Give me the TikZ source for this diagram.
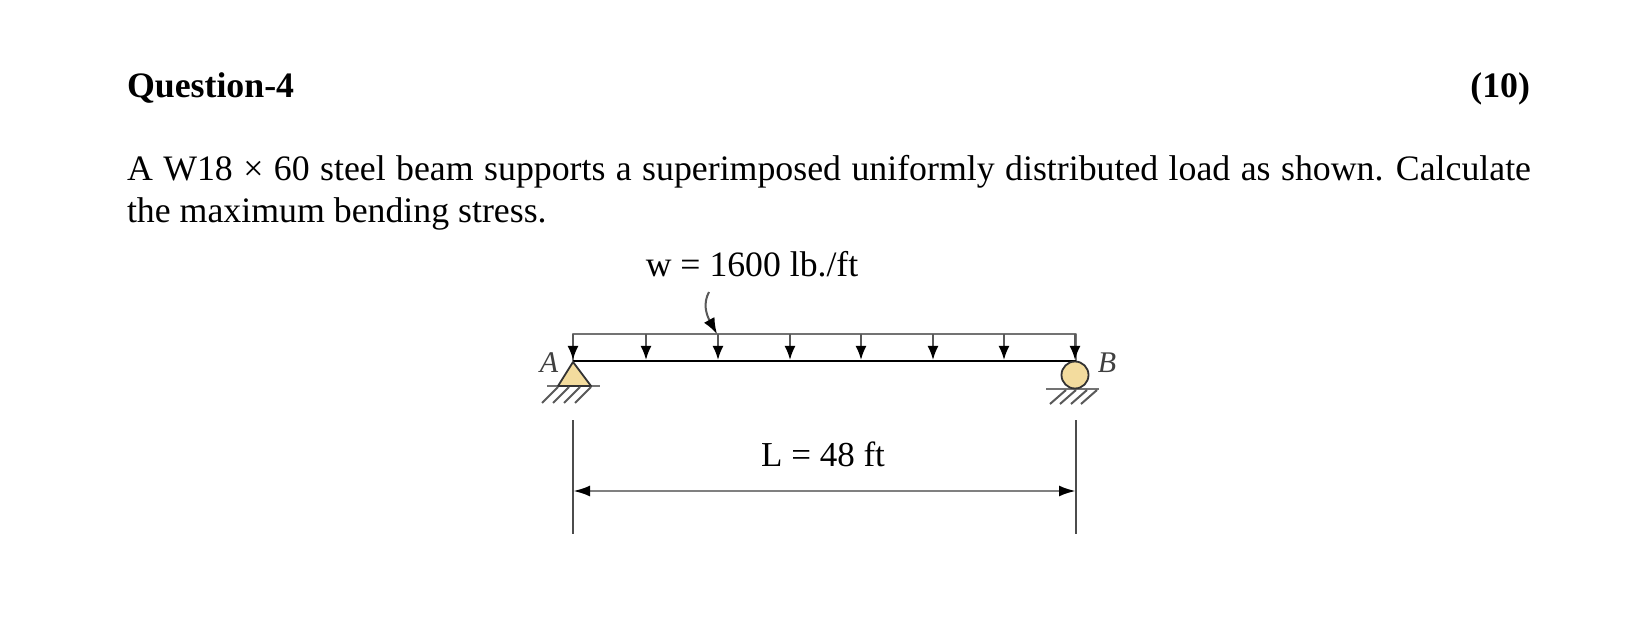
\documentclass[tikz,border=0pt]{standalone}
\usepackage{fontspec}
\setmainfont{Liberation Serif}
\usetikzlibrary{arrows.meta}
\definecolor{tan}{HTML}{F3DC9E}
\tikzset{
 txt/.style={inner sep=0pt,outer sep=0pt,anchor=base west,font=\fontsize{35.8}{36}\selectfont},
 head/.style={txt,font=\fontsize{35.8}{36}\selectfont\bfseries},
 fig/.style={inner sep=0pt,outer sep=0pt,anchor=base,font=\fontsize{35.7}{36}\selectfont},
 lab/.style={inner sep=0pt,outer sep=0pt,anchor=base,text=black!75,font=\fontsize{30}{30}\selectfont\itshape},
 beamline/.style={line width=2.4pt,black},
 loadline/.style={line width=2.4pt,black!55},
 load/.style={line width=2pt,black!65,-{Latex[length=14pt,width=11pt,black]}},
 ground/.style={line width=1.8pt,black!55},
 hatch/.style={line width=2pt,black!65},
 dimline/.style={line width=2.6pt,black!50},
 support/.style={draw=black!80,line width=1.8pt,fill=tan}
}
\begin{document}
\begin{tikzpicture}[x=1pt,y=-1pt]
\useasboundingbox (0,0) rectangle (1628,628);
\fill[white] (0,0) rectangle (1628,628);
\node[head] (q) at (127,98) {Question-4};
\node[head,anchor=base east] (mk) at (1530,98) {(10)};
\node[txt] (l1) at (127,181) {\makebox[1404pt][s]{A W18 × 60 steel beam supports a superimposed uniformly distributed load as shown.\kern-4pt{} Calculate}};
\node[txt] (l2) at (127,223) {the maximum bending stress.};
\node[fig] (w) at (752,277) {w = 1600 lb./ft};
\node[fig,font=\fontsize{35}{36}\selectfont] (L) at (823,466) {L = 48 ft};
\node[lab] (A) at (549,372) {A};
\node[lab] (B) at (1107,372) {B};
\coordinate (bl) at (573,361); \coordinate (br) at (1076,361);
\coordinate (tl) at (573,334); \coordinate (tr) at (1076,334);
\draw[loadline,line join=round] (bl) -- (tl) -- (tr) -- (br);
\foreach \x in {573,646,718,790,861,933,1004,1075}{
  \coordinate (t\x) at (\x,334); \coordinate (b\x) at (\x,360);
  \draw[load] (t\x) -- (b\x);
}
\draw[beamline] (bl) -- (br);
\coordinate (ls) at (709,292);
\coordinate (le) at (717,334);
\draw[line width=2pt,black!65,-{Latex[length=16pt,width=12pt,black]}] (ls) .. controls (703,303) and (706,314) .. (le);
\coordinate (pa) at (573,362); \coordinate (pl) at (558,386); \coordinate (pr) at (591,386);
\coordinate (g1) at (547,386); \coordinate (g2) at (600,386);
\draw[ground] (g1) -- (g2);
\draw[support,line join=round] (pa) -- (pl) -- (pr) -- cycle;
\foreach \x in {558,569,580,591}{ \draw[hatch] (\x,387) -- (\x-16,403); }
\coordinate (g3) at (1046,389); \coordinate (g4) at (1099,389);
\draw[ground] (g3) -- (g4);
\foreach \x in {1069,1079,1090,1100}{ \draw[hatch] (\x-3,390) -- (\x-19,404); }
\node[circle,support,minimum size=27pt,inner sep=0pt] (rol) at (1075,375) {};
\coordinate (d1a) at (573,420); \coordinate (d1b) at (573,534);
\coordinate (d2a) at (1076,420); \coordinate (d2b) at (1076,534);
\coordinate (da) at (573,491); \coordinate (db) at (1076,491);
\draw[line width=1.8pt,black!70] (d1a) -- (d1b);
\draw[line width=1.8pt,black!70] (d2a) -- (d2b);
\draw[dimline,{Latex[length=17pt,width=11pt,black]}-{Latex[length=17pt,width=11pt,black]}] (da) -- (db);
\end{tikzpicture}
\end{document}
